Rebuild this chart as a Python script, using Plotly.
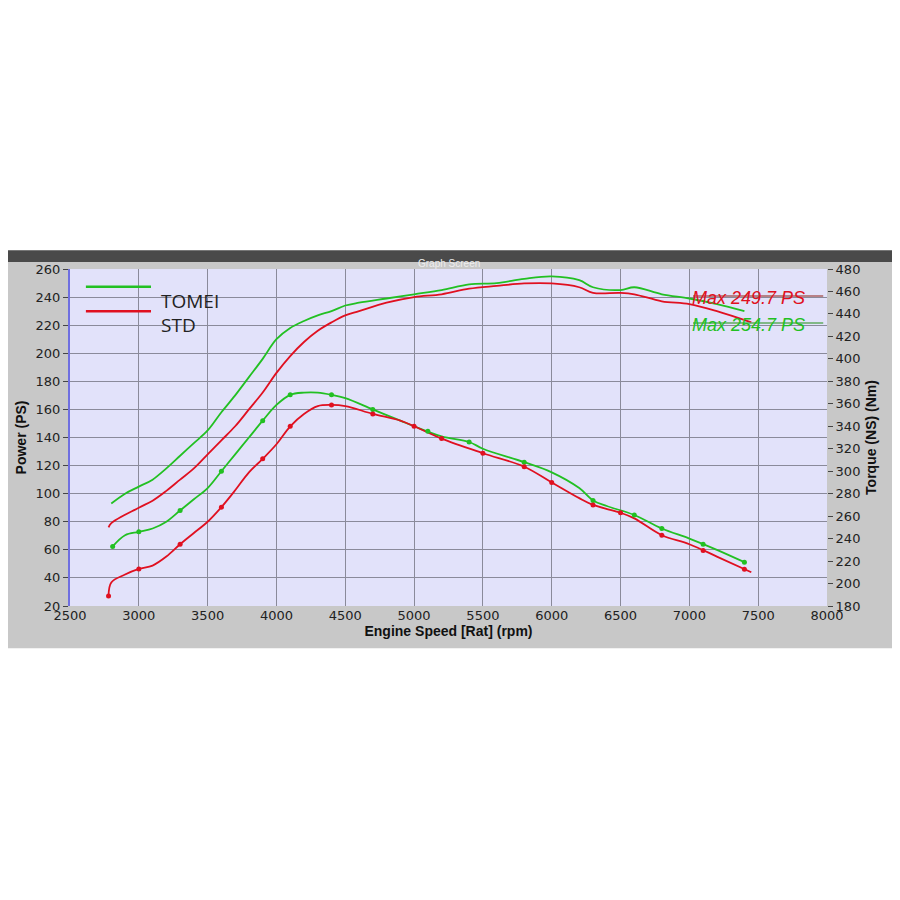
import plotly.graph_objects as go
import numpy as np

# Power (PS), left axis
tomei_p_rpm = [2800,2900,3000,3100,3200,3300,3400,3500,3600,3700,3800,3900,4000,4100,4200,4300,4400,4500,4600,4800,5000,5200,5400,5600,5800,6000,6200,6300,6500,6600,6800,7000,7200,7400]
tomei_p = [93,100,105,110,118,127,136,145,158,170,183,196,210,218,223,227,230,234,236,239,242,245,249,250,253,254.7,252,247,245,247,242,239,235,230]
std_p_rpm = [2780,2800,3000,3100,3200,3300,3400,3500,3600,3700,3800,3900,4000,4100,4200,4300,4400,4500,4600,4800,5000,5200,5400,5600,5800,6000,6200,6300,6500,6600,6800,7000,7200,7450]
std_p = [76,79,90,95,102,110,118,128,138,148,160,172,186,198,208,216,222,227,230,236,240,242,246,248,249.7,249.7,247,243,243,242,237,235,230,222]

# Torque (Nm), right axis
tomei_t_rpm = [2810,2900,3000,3100,3200,3300,3400,3500,3600,3700,3800,3900,4000,4100,4200,4300,4400,4500,4700,4900,5000,5200,5400,5500,5800,6000,6200,6300,6400,6600,6800,7000,7200,7400]
tomei_t = [233,243,246,249,255,265,275,285,300,315,330,345,359,368,370,370,368,365,355,345,340,331,326,320,308,299,285,274,269,261,249,240,230,219]
std_t_rpm = [2780,2800,2900,3000,3100,3200,3300,3400,3500,3600,3700,3800,3900,4000,4100,4200,4300,4400,4500,4700,4900,5000,5200,5500,5800,6000,6200,6300,6500,6600,6800,7000,7200,7450]
std_t = [189,201,208,213,216,224,235,245,255,268,283,299,311,324,340,351,358,359,358,351,345,340,329,316,304,290,276,270,263,258,243,235,224,210]

tomei_marks = [2810,3000,3300,3600,3900,4100,4400,4700,5100,5400,5800,6300,6600,6800,7100,7400]
std_marks = [2780,3000,3300,3600,3900,4100,4400,4700,5000,5200,5500,5800,6000,6300,6500,6800,7100,7400]

GREEN = "#22c022"
RED = "#e01020"

fig = go.Figure()
fig.add_trace(go.Scatter(x=tomei_p_rpm, y=tomei_p, mode="lines", line=dict(color=GREEN, width=1.8, shape="spline"), yaxis="y"))
fig.add_trace(go.Scatter(x=std_p_rpm, y=std_p, mode="lines", line=dict(color=RED, width=1.8, shape="spline"), yaxis="y"))
fig.add_trace(go.Scatter(x=tomei_t_rpm, y=tomei_t, mode="lines", line=dict(color=GREEN, width=1.8, shape="spline"), yaxis="y2"))
fig.add_trace(go.Scatter(x=std_t_rpm, y=std_t, mode="lines", line=dict(color=RED, width=1.8, shape="spline"), yaxis="y2"))
fig.add_trace(go.Scatter(x=tomei_marks, y=np.interp(tomei_marks, tomei_t_rpm, tomei_t), mode="markers", marker=dict(color=GREEN, size=5), yaxis="y2"))
fig.add_trace(go.Scatter(x=std_marks, y=np.interp(std_marks, std_t_rpm, std_t), mode="markers", marker=dict(color=RED, size=5), yaxis="y2"))

tickfont = dict(family="DejaVu Sans", size=13, color="#222")
shapes = [
    dict(type="rect", xref="paper", yref="paper", x0=-0.1, x1=1.1, y0=-0.125, y1=1.021, fillcolor="#c8c8c8", line=dict(width=0), layer="below"),
    dict(type="rect", xref="paper", yref="paper", x0=-0.1, x1=1.1, y0=1.021, y1=1.056, fillcolor="#4a4a4a", line=dict(width=0), layer="below"),
    dict(type="rect", xref="paper", yref="paper", x0=0, x1=1, y0=0, y1=1, fillcolor="#e2e2fa", line=dict(width=0), layer="below"),
    dict(type="line", xref="paper", yref="paper", x0=0.021, x1=0.107, y0=0.947, y1=0.947, line=dict(color=GREEN, width=2.5)),
    dict(type="line", xref="paper", yref="paper", x0=0.021, x1=0.107, y0=0.875, y1=0.875, line=dict(color=RED, width=2.5)),
    dict(type="line", xref="paper", yref="paper", x0=0.823, x1=0.995, y0=0.92, y1=0.92, line=dict(color="#aa6060", width=1.5)),
    dict(type="line", xref="paper", yref="paper", x0=0.823, x1=0.995, y0=0.84, y1=0.84, line=dict(color="#60aa60", width=1.5)),
]
annotations = [
    dict(xref="paper", yref="paper", x=0.118, y=0.95, text="TOMEI", showarrow=False, xanchor="left", font=dict(family="Open Sans", size=19, color="#222")),
    dict(xref="paper", yref="paper", x=0.118, y=0.878, text="STD", showarrow=False, xanchor="left", font=dict(family="Open Sans", size=19, color="#222")),
    dict(xref="paper", yref="paper", x=0.819, y=0.95, text="<i>Max 249.7 PS</i>", showarrow=False, xanchor="left", font=dict(family="Liberation Sans", size=18, color=RED)),
    dict(xref="paper", yref="paper", x=0.819, y=0.869, text="<i>Max 254.7 PS</i>", showarrow=False, xanchor="left", font=dict(family="Liberation Sans", size=18, color=GREEN)),
    dict(xref="paper", yref="paper", x=0.5, y=1.038, text="Graph Screen", showarrow=False, font=dict(family="Liberation Sans", size=10, color="#eee")),
]

fig.update_layout(
    width=900, height=900, paper_bgcolor="white", plot_bgcolor="rgba(0,0,0,0)",
    margin=dict(l=59, r=81, t=261, b=302), showlegend=False,
    shapes=shapes, annotations=annotations,
    xaxis=dict(range=[2500, 8000], dtick=500, showgrid=True, gridcolor="#8a8a9a", ticks="", tickfont=tickfont,
               title=dict(text="<b>Engine Speed [Rat] (rpm)</b>", font=dict(family="Liberation Sans", size=14, color="#111"), standoff=4),
               zeroline=False, showline=False),
    yaxis=dict(range=[20, 260], dtick=20, showgrid=True, gridcolor="#8a8a9a", ticks="outside", ticklen=5, tickcolor="#444",
               tickfont=tickfont, showline=True, linecolor="#6f6fe0", linewidth=2, zeroline=False,
               title=dict(text="<b>Power (PS)</b>", font=dict(family="Liberation Sans", size=14, color="#111"), standoff=6)),
    yaxis2=dict(range=[180, 480], dtick=20, overlaying="y", side="right", showgrid=False, ticks="outside", ticklen=5,
                tickcolor="#444", tickfont=tickfont, zeroline=False, showline=False,
                title=dict(text="<b>Torque (NS) (Nm)</b>", font=dict(family="Liberation Sans", size=14, color="#111"), standoff=6)),
)
fig.write_html("out.html")
